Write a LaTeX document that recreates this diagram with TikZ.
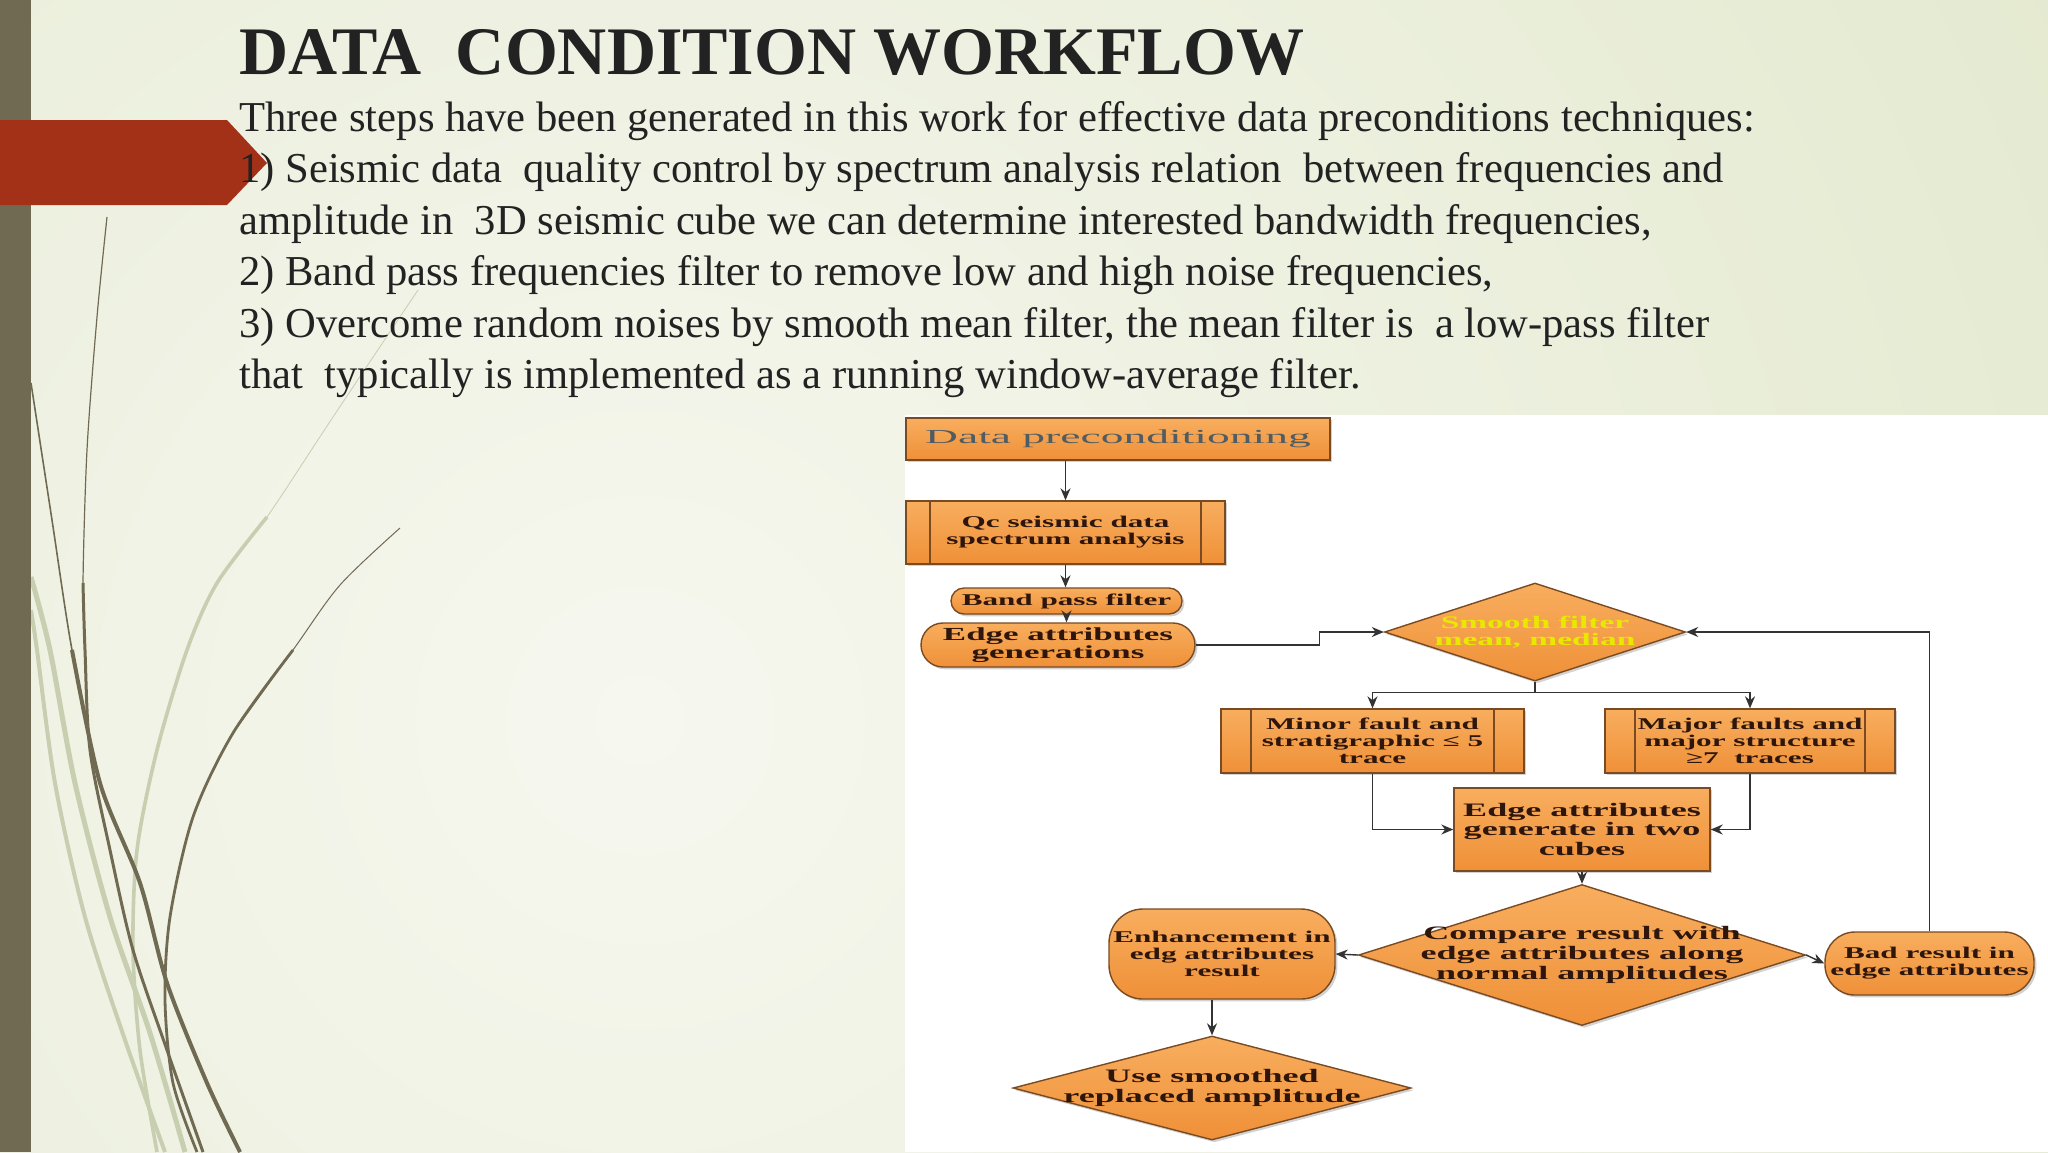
\documentclass[tikz,border=0pt]{standalone}
\usepackage{fontspec}
\setmainfont{Liberation Serif}
\newfontfamily\flowfont[FakeStretch=1.9]{Liberation Serif}
\newfontfamily\prepfont[FakeStretch=2.3]{Liberation Serif}
\usepackage{tikz}
\usetikzlibrary{shapes.geometric,arrows.meta,shadows}

\definecolor{slidegreen}{HTML}{D9E2BD}
\definecolor{slidelight}{HTML}{F6F7EF}
\definecolor{barolive}{HTML}{716A52}
\definecolor{paleolive}{HTML}{C8CEB0}
\definecolor{tabred}{HTML}{A33117}
\definecolor{titleblack}{HTML}{222222}
\definecolor{boxtop}{HTML}{F8AE5E}
\definecolor{boxbottom}{HTML}{EF9038}
\definecolor{boxline}{HTML}{7A4B22}
\definecolor{boxtext}{HTML}{2E160C}
\definecolor{preptext}{HTML}{505C64}
\definecolor{smoothyellow}{HTML}{E8E800}
\definecolor{flowline}{HTML}{333333}

\newcommand\slidetitlefont{\bfseries\fontsize{34}{40}\selectfont}
\newcommand\slidebodyfont{\fontsize{21.3}{25.7}\selectfont}
\newcommand\flowsmall{\flowfont\bfseries\fontsize{8.2}{8.5}\selectfont}
\newcommand\flowbig{\flowfont\bfseries\fontsize{9.5}{9.8}\selectfont}

\tikzset{
  flowbox/.style={draw=boxline, line width=0.7pt, top color=boxtop, bottom color=boxbottom,
    text=boxtext, font=\flowsmall, align=center, inner sep=0pt,
    drop shadow={shadow xshift=1.2pt, shadow yshift=-1.2pt, opacity=0.35}},
  procbox/.style={flowbox, rectangle,
    path picture={\draw[boxline, line width=0.7pt]
      ([xshift=#1]path picture bounding box.north west) -- ([xshift=#1]path picture bounding box.south west)
      ([xshift=-#1]path picture bounding box.north east) -- ([xshift=-#1]path picture bounding box.south east);}},
  roundbox/.style={flowbox, rectangle},
  decbox/.style={flowbox, diamond, inner sep=-6pt},
  flowarrow/.style={draw=flowline, line width=0.7pt, -{Stealth[length=6pt,width=5pt]}}
}

\begin{document}
\begin{tikzpicture}[x=0.5pt, y=-0.5pt]
  \useasboundingbox (0,0) rectangle (2048,1152);
  % slide background
  \fill[slidegreen] (0,0) rectangle (2048,1152);
  \begin{scope}
    \clip (0,0) rectangle (2048,1152);
    \shade[inner color=slidelight, outer color=slidegreen] (640,720) circle (1300pt);
  \end{scope}

  % grass strokes on the left
  \draw[paleolive, line width=0.4pt] plot[smooth] coordinates {(418,290) (333,417) (267,517) (217,583) (187,650)};
  \draw[paleolive, line width=1.8pt] plot[smooth] coordinates {(267,517) (217,583) (187,650) (157,750) (137,850) (133,950) (140,1050) (157,1152)};
  \draw[paleolive, line width=2.5pt] plot[smooth] coordinates {(31,577) (50,650) (75,783) (110,917) (150,1033) (185,1152)};
  \draw[paleolive, line width=2pt] plot[smooth] coordinates {(31,610) (37,650) (55,783) (85,917) (125,1040) (165,1152)};
  \draw[barolive, line width=0.6pt] plot[smooth] coordinates {(107,217) (97,317) (87,450) (83,583) (85,650) (90,750) (110,850) (133,950) (167,1050) (203,1152)};
  \draw[barolive, line width=1.5pt] plot[smooth] coordinates {(83,583) (85,650) (90,750) (110,850) (133,950) (167,1050) (203,1152)};
  \draw[barolive, line width=0.8pt] plot[smooth] coordinates {(31,383) (52,520) (72,650) (100,783) (140,883) (167,983) (207,1083) (240,1152)};
  \draw[barolive, line width=2pt] plot[smooth] coordinates {(72,650) (100,783) (140,883) (167,983) (207,1083) (240,1152)};
  \draw[barolive, line width=0.5pt] plot[smooth] coordinates {(400,528) (340,585) (293,650) (233,733)};
  \draw[barolive, line width=1.4pt] plot[smooth] coordinates {(293,650) (233,733) (193,817) (170,917) (165,1000) (173,1083) (197,1152)};

  % left bar and red tab
  \fill[barolive] (0,0) rectangle (31,1152);
  \fill[tabred] (0,120) -- (227,120) -- (267,163) -- (227,205) -- (0,205) -- cycle;

  % title and text
  \node[anchor=base west, inner sep=0pt, font=\slidetitlefont, text=titleblack] (title) at (239,74) {DATA\ \ CONDITION WORKFLOW};
  \node[anchor=north west, inner sep=0pt, align=left, font=\slidebodyfont, text=titleblack] (steps) at (239,101)
    {Three steps have been generated in this work for effective data preconditions techniques:\\
     1) Seismic data\ \ quality control by spectrum analysis relation\ \ between frequencies and\\
     amplitude in\ \ 3D seismic cube we can determine interested bandwidth frequencies,\\
     2) Band pass frequencies filter to remove low and high noise frequencies,\\
     3) Overcome random noises by smooth mean filter, the mean filter is\ \ a low-pass filter\\
     that\ \ typically is implemented as a running window-average filter.};

  % white panel behind the flow chart
  \fill[white] (905,415) rectangle (2048,1152);

  % flow chart
  \node[flowbox, minimum width=212pt, minimum height=21pt, font=\prepfont\fontsize{9.9}{10}\selectfont, text=preptext] (prep) at (1118,439) {Data preconditioning};
  \node[procbox=12pt, minimum width=159.5pt, minimum height=31.5pt] (qc) at (1065.5,532.5) {Qc seismic data\\spectrum analysis};
  \node[roundbox, rounded corners=6.5pt, minimum width=115.5pt, minimum height=13pt] (band) at (1066.5,601) {Band pass filter};
  \node[roundbox, rounded corners=11pt, minimum width=137pt, minimum height=22pt, font=\flowfont\bfseries\fontsize{9.2}{9.2}\selectfont] (gen) at (1058,645) {Edge attributes\\generations};
  \node[decbox, aspect=3.07, minimum width=150.5pt, minimum height=49pt, font=\flowfont\bfseries\fontsize{8.8}{8.8}\selectfont, text=smoothyellow] (smooth) at (1535,632) {Smooth filter\\mean, median};
  \node[procbox=15pt, minimum width=151.5pt, minimum height=32pt] (minor) at (1372.5,741) {Minor fault and\\stratigraphic ≤ 5\\trace};
  \node[procbox=15pt, minimum width=145pt, minimum height=32pt] (major) at (1750,741) {Major faults and\\major structure\\≥7\ \ traces};
  \node[flowbox, minimum width=128pt, minimum height=41.5pt, font=\flowbig] (cubes) at (1582,829.5) {Edge attributes\\generate in two\\cubes};
  \node[decbox, aspect=3.17, minimum width=223.5pt, minimum height=70.5pt, font=\flowbig] (compare) at (1582,955) {Compare result with\\edge attributes along\\normal amplitudes};
  \node[roundbox, rounded corners=17pt, minimum width=113pt, minimum height=45pt] (enh) at (1222,954) {Enhancement in\\edg attributes\\result};
  \node[roundbox, rounded corners=15pt, minimum width=104.5pt, minimum height=31.5pt] (bad) at (1929.5,963.5) {Bad result in\\edge attributes};
  \node[decbox, aspect=3.83, minimum width=199pt, minimum height=52pt, font=\flowbig] (usesm) at (1212,1088) {Use smoothed\\replaced amplitude};

  \draw[flowarrow] (qc.north |- prep.south) -- (qc.north);
  \draw[flowarrow] (qc.south) -- (qc.south |- band.north);
  \draw[flowarrow] (band.south) -- (band.south |- gen.north);
  \draw[flowarrow] (gen.east) -- ++(124,0) |- (smooth.west);
  \draw[flowarrow] (smooth.south) -- ++(0,11) -| (minor.north);
  \draw[flowarrow] (smooth.south) -- ++(0,11) -| (major.north);
  \draw[flowarrow] (minor.south) |- (cubes.west);
  \draw[flowarrow] (major.south) |- (cubes.east);
  \draw[flowarrow] (cubes) -- (compare);
  \draw[flowarrow] (compare.west) -- (enh.east);
  \draw[flowarrow] (compare.east) -- (bad.west);
  \draw[flowarrow] (bad.north) |- (smooth.east);
  \draw[flowarrow] (usesm.north |- enh.south) -- (usesm.north);
\end{tikzpicture}
\end{document}
